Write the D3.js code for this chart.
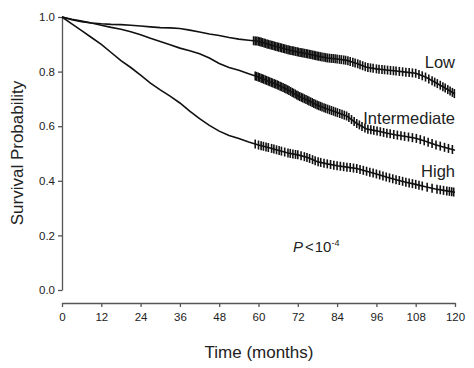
<!DOCTYPE html>
<html>
  <head>
    <meta charset="utf-8">
    <title>Survival by risk group</title>
    <style>
      body { margin: 0; background: #fff; }
      text { font-family: "Liberation Sans", Arial, Helvetica, sans-serif; fill: #222; }
    </style>
  </head>
  <body>
    <script src="https://d3js.org/d3.v7.min.js"></script>
    <script>

    // Datos: meses y probabilidad de supervivencia
    var months = [0, 3, 6, 9, 12, 15, 18, 21, 24, 27, 30, 33, 36, 39, 42, 45, 48, 51, 54, 57, 60,
                  63, 66, 69, 72, 75, 78, 81, 84, 87, 90, 93, 96, 99, 102, 105, 108, 111, 114, 117, 120];

    var lowSurv = [1.0, 0.99, 0.983, 0.978, 0.975, 0.973, 0.972, 0.97, 0.967, 0.964, 0.961, 0.96, 0.958,
                   0.952, 0.945, 0.938, 0.932, 0.925, 0.919, 0.915, 0.911, 0.9, 0.89, 0.88, 0.872, 0.865,
                   0.857, 0.85, 0.846, 0.841, 0.83, 0.816, 0.81, 0.806, 0.802, 0.798, 0.794, 0.78, 0.76,
                   0.74, 0.718];

    var intermediateSurv = [1.0, 0.992, 0.985, 0.978, 0.97, 0.962, 0.955, 0.946, 0.935, 0.922, 0.91, 0.898,
                   0.886, 0.876, 0.865, 0.85, 0.83, 0.815, 0.805, 0.792, 0.78, 0.765, 0.75, 0.733, 0.712,
                   0.695, 0.677, 0.663, 0.65, 0.637, 0.61, 0.59, 0.583, 0.575, 0.568, 0.562, 0.556, 0.545,
                   0.532, 0.522, 0.512];

    var highSurv = [1.0, 0.975, 0.95, 0.925, 0.9, 0.87, 0.84, 0.815, 0.787, 0.758, 0.733, 0.71, 0.685,
                   0.655, 0.628, 0.603, 0.582, 0.566, 0.555, 0.542, 0.531, 0.522, 0.512, 0.502, 0.495, 0.485,
                   0.47, 0.462, 0.455, 0.45, 0.445, 0.435, 0.425, 0.414, 0.404, 0.395, 0.387, 0.378, 0.37,
                   0.364, 0.358];

    // tiempos de censura (marcas verticales)
    var lowCensor = [58.5, 59, 59.5, 60, 60.4, 60.8, 61.2, 61.7, 62.1, 62.6, 63, 63.5, 64, 64.4, 64.9, 65.3,
                   65.8, 66.2, 66.7, 67.1, 67.6, 68, 68.5, 69, 69.4, 69.9, 70.4, 70.8, 71.3, 71.8, 72.2, 72.7,
                   73.2, 73.6, 74.1, 74.6, 75, 75.5, 76, 76.5, 77, 77.4, 77.9, 78.4, 78.9, 79.4, 80, 80.5, 81,
                   81.6, 82.2, 82.8, 83.4, 84, 84.7, 85.3, 86, 86.6, 87.3, 88, 88.8, 89.5, 90.3, 91, 91.8,
                   92.6, 93.4, 94.2, 95, 96, 96.8, 97.7, 98.5, 99.4, 100.3, 101.2, 102, 103, 104, 105, 106,
                   107, 108, 109, 110, 111, 112, 113, 113.8, 114.6, 115.5, 116.3, 117, 117.8, 118.5, 119.2, 119.8];

    var intermediateCensor = [59, 59.4, 59.9, 60.3, 60.8, 61.2, 61.6, 62.1, 62.5, 63, 63.4, 63.9, 64.3, 64.8,
                   65.2, 65.7, 66.1, 66.6, 67, 67.5, 68, 68.4, 68.9, 69.3, 69.8, 70.3, 70.7, 71.2, 71.7, 72.1,
                   72.6, 73.1, 73.5, 74, 74.5, 75, 75.4, 75.9, 76.4, 76.9, 77.4, 77.9, 78.4, 78.9, 79.4, 80,
                   80.5, 81.1, 81.7, 82.3, 82.9, 83.5, 84.1, 84.8, 85.5, 86.2, 86.9, 87.6, 88.4, 89.2, 90,
                   90.8, 91.6, 92.5, 93.4, 94.3, 95.2, 96.2, 97.2, 98.2, 99.2, 100.2, 101.3, 102.4, 103.5,
                   104.6, 105.8, 107, 108.2, 109.4, 110.6, 111.8, 113, 114.2, 115.5, 116.8, 118, 119.2];

    var highCensor = [59, 60, 60.8, 61.5, 62.3, 63, 64, 64.7, 65.5, 66.3, 67, 68, 69, 69.7, 70.5, 71.3, 72,
                   73, 74, 74.8, 75.6, 76.5, 77.3, 78.2, 79, 80, 81, 82, 83, 84, 85, 86, 87, 88, 89, 90, 91,
                   92, 93, 94, 95, 96, 97, 98, 99, 100, 101, 102, 103, 104, 105, 106, 107, 108, 109, 110,
                   111.5, 113, 114.5, 115.5, 116.5, 117.5, 118.3, 119, 119.6];

    var groupNames = ["Low", "Intermediate", "High"];
    var xTicks = [0, 12, 24, 36, 48, 60, 72, 84, 96, 108, 120];
    var yTicks = [0, 0.2, 0.4, 0.6, 0.8, 1.0];

    var groups = [
      { name: groupNames[0], surv: lowSurv, censor: lowCensor, labelY: 68 },
      { name: groupNames[1], surv: intermediateSurv, censor: intermediateCensor, labelY: 124 },
      { name: groupNames[2], surv: highSurv, censor: highCensor, labelY: 177 }
    ];

    var width = 474, height = 368;

    var svg = d3.select("body").append("svg")
        .attr("width", width)
        .attr("height", height);

    // escalas
    var x = d3.scaleLinear().domain([0, 120]).range([62, 455]);
    var y = d3.scaleLinear().domain([0, 1]).range([290, 17]);

    // eje Y
    var yAxis = svg.append("g")
        .attr("transform", "translate(62,0)")
        .call(d3.axisLeft(y).tickValues(yTicks).tickFormat(d3.format(".1f")).tickSize(4).tickSizeOuter(0));

    // eje X (separado del eje Y)
    var xAxis = svg.append("g")
        .attr("transform", "translate(0,303)")
        .call(d3.axisBottom(x).tickValues(xTicks).tickSize(4).tickSizeOuter(0));

    svg.selectAll(".domain, .tick line").attr("stroke", "#555").attr("stroke-width", 1.3);
    svg.selectAll(".tick text")
        .attr("fill", "#333")
        .style("font-size", "11.5px")
        .style("font-family", "'Liberation Sans', Arial, sans-serif");
    yAxis.selectAll(".tick text").attr("x", -7);
    xAxis.selectAll(".tick text").attr("y", 10);

    // curvas
    var line = d3.line()
        .x(function(d) { return x(d[0]); })
        .y(function(d) { return y(d[1]); });

    groups.forEach(function(g) {
      var pts = months.map(function(m, i) { return [m, g.surv[i]]; });

      svg.append("path")
          .datum(pts)
          .attr("d", line)
          .attr("fill", "none")
          .attr("stroke", "#111")
          .attr("stroke-width", 1.6);

      // posicion de la marca sobre la curva
      function survAt(t) {
        var i = d3.bisectRight(months, t) - 1;
        if (i >= months.length - 1) return g.surv[months.length - 1];
        var f = (t - months[i]) / (months[i + 1] - months[i]);
        return g.surv[i] + f * (g.surv[i + 1] - g.surv[i]);
      }

      svg.append("g").selectAll("line")
          .data(g.censor)
          .enter().append("line")
          .attr("x1", function(t) { return x(t); })
          .attr("x2", function(t) { return x(t); })
          .attr("y1", function(t) { return y(survAt(t)) - 4.5; })
          .attr("y2", function(t) { return y(survAt(t)) + 4.5; })
          .attr("stroke", "#111")
          .attr("stroke-width", 1.6);

      svg.append("text")
          .attr("x", 455)
          .attr("y", g.labelY)
          .attr("text-anchor", "end")
          .style("font-size", "16.5px")
          .text(g.name);
    });

    // valor p
    var pText = svg.append("text")
        .attr("x", 293)
        .attr("y", 252)
        .style("font-size", "15px");
    pText.append("tspan").style("font-style", "italic").text("P");
    pText.append("tspan").attr("dx", 2).text("<");
    pText.append("tspan").attr("dx", 1).text("10");
    pText.append("tspan").attr("dy", -6).style("font-size", "9px").text("-4");

    // titulos de ejes
    svg.append("text")
        .attr("x", 259)
        .attr("y", 358)
        .attr("text-anchor", "middle")
        .style("font-size", "17px")
        .text("Time (months)");

    svg.append("text")
        .attr("transform", "translate(23,153) rotate(-90)")
        .attr("text-anchor", "middle")
        .style("font-size", "17px")
        .text("Survival Probability");

    </script>
  </body>
</html>
